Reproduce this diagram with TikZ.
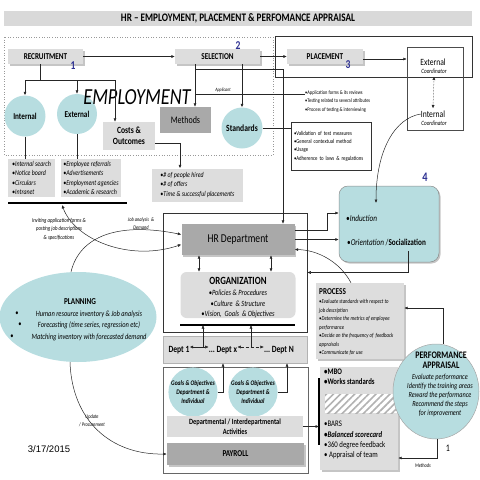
\documentclass[tikz,border=0pt]{standalone}
\usepackage{fontspec}
\setmainfont[FakeStretch=0.8]{Carlito}
\newfontfamily\datefont{Liberation Sans}
\usetikzlibrary{positioning,shapes.geometric,shadows,patterns.meta,arrows.meta}
\definecolor{barGray}{HTML}{D9D9D9}
\definecolor{boxGray}{HTML}{DDDDDD}
\definecolor{darkGray}{HTML}{A9A9A9}
\definecolor{tealFill}{HTML}{B7DDE0}
\definecolor{numBlue}{HTML}{2E3192}
\newcommand{\fsz}[2]{\fontsize{#1}{#2}\selectfont}
\tikzset{
  shade box/.style={drop shadow={shadow xshift=1.5pt,shadow yshift=-1.5pt,fill=black!45}},
  headbox/.style={fill=boxGray,shade box,minimum height=15pt,inner sep=1pt,font=\bfseries\fsz{9}{10}},
  listbox/.style={fill=boxGray,inner xsep=2pt,inner ysep=1pt,align=left,font=\itshape\fsz{7.4}{9.5}},
  darkbox/.style={fill=darkGray,inner sep=1pt,align=center},
  bubble/.style={circle,fill=tealFill,inner sep=0pt,align=center},
  numtag/.style={text=numBlue,inner sep=0pt,font=\bfseries\fsz{12}{12}},
  tinynote/.style={inner sep=0pt,align=center,font=\itshape\fsz{5.5}{7}},
  plain/.style={inner sep=0pt,align=center},
  link/.style={draw=black!85,line width=0.5pt,-{Latex[length=3.5pt,width=3pt]}},
  dlink/.style={draw=black!85,line width=0.5pt,{Latex[length=3.5pt,width=3pt]}-{Latex[length=3.5pt,width=3pt]}},
  wire/.style={draw=black!85,line width=0.5pt},
  heavy/.style={draw=black,line width=2pt},
}
\begin{document}
\begin{tikzpicture}[x=1pt,y=-1pt]
\useasboundingbox (0,0) rectangle (480,480);
\node[fill=barGray,minimum width=468pt,minimum height=15pt,inner sep=0pt,font=\bfseries\fsz{11.5}{11.5}] (title) at (238,18.5) {HR – EMPLOYMENT, PLACEMENT \& PERFOMANCE APPRAISAL};
\draw[gray!80,dotted,line width=0.6pt] (4,37) rectangle (273,155);
\draw[gray!40!black,line width=0.8pt] (275,36) rectangle (472,77);

\node[headbox,minimum width=75pt] (recruit) at (45.5,56.5) {RECRUITMENT};
\node[headbox,minimum width=85pt] (select) at (217.5,56.5) {SELECTION};
\node[headbox,minimum width=76pt] (place) at (325,56.5) {PLACEMENT};
\node[numtag] (tag1) at (73,66) {1};
\node[numtag] (tag2) at (238,46) {2};
\node[numtag] (tag3) at (348,65) {3};

\node[draw=black!70,line width=0.5pt,minimum width=56pt,minimum height=83pt] (coord) at (435,88.5) {};
\node[plain,font=\fsz{9.5}{10}] (extA) at (433,62) {External};
\node[plain,font=\itshape\fsz{6.5}{7}] (extB) at (434,71) {Coordinator};
\node[plain,font=\fsz{9.5}{10}] (intA) at (433,114) {Internal};
\node[plain,font=\itshape\fsz{6.5}{7}] (intB) at (434,123) {Coordinator};

\node[bubble,minimum size=41pt,font=\bfseries\fsz{9}{10}] (internal) at (25,116) {Internal};
\node[bubble,minimum size=40pt,font=\bfseries\fsz{9}{10}] (external) at (77,114) {External};
\node[plain,font=\itshape\fsz{23}{23}] (employ) at (137,97) {EMPLOYMENT};
\node[fill=boxGray,minimum width=52pt,minimum height=28pt,inner sep=0pt,align=center,font=\bfseries\fsz{9.5}{11}] (costs) at (129,136) {Costs \&\\Outcomes};
\node[listbox,minimum width=47pt,minimum height=38pt] (intList) at (31.5,178) {•Internal search\\•Notice board\\•Circulars\\•Intranet};
\node[listbox,minimum width=58pt,minimum height=38pt] (extList) at (91,178) {•Employee referrals\\•Advertisements\\•Employment agencies\\•Academic \& research};
\node[listbox,minimum width=91pt,minimum height=33pt] (hired) at (197.5,185) {•\# of people hired\\•\# of offers\\•Time \& successful placements};
\coordinate (barL) at (8,203);
\coordinate (barR) at (127,203);
\coordinate (barHit) at (62,205);
\draw[heavy] (barL) -- (barR);

\node[darkbox,minimum width=51pt,minimum height=26pt,font=\fsz{10}{10}] (methods) at (185.5,120) {Methods};
\node[bubble,minimum size=41pt,font=\bfseries\fsz{9.5}{10}] (standards) at (242,128) {Standards};
\node[tinynote,font=\itshape\fsz{5}{6}] (applicant) at (223,90) {Applicant};
\node[anchor=west,inner sep=0pt,align=left,font=\fsz{5.5}{8.5}] (appList) at (305,101.5) {•Application forms \& its reviews\\•Testing related to several attributes\\•Process of testing \& interviewing};
\node[draw=black!80,line width=0.5pt,fill=white,text width=74pt,minimum height=48pt,inner xsep=3pt,align=left,font=\fsz{6}{8.3}] (stdList) at (331,146) {•Validation of test measures\\•General contextual method\\•Usage\\•Adherence to laws \& regulations};

\node[draw=black!80,line width=0.6pt,minimum width=144pt,minimum height=119pt] (hrFrame) at (235,272.5) {};
\node[darkbox,shade box,minimum width=113pt,minimum height=31pt,font=\fsz{12}{12}] (hrdept) at (238,239.5) {HR Department};
\node[fill=boxGray,rounded corners=6pt,minimum width=115pt,minimum height=46pt] (org) at (238,295) {};
\node[plain,font=\bfseries\fsz{11}{11}] (orgTitle) at (238,281) {ORGANIZATION};
\node[plain,font=\itshape\fsz{8}{10.5}] (orgItems) at (238,304) {•Policies \& Procedures\\•Culture \ \& Structure\\•Vision, \ Goals \ \& Objectives};
\coordinate (orgBarL) at (180,325);
\coordinate (orgBarR) at (295,325);
\draw[heavy] (orgBarL) -- (orgBarR);

\node[fill=boxGray,draw=black!30,minimum width=144pt,minimum height=27pt] (deptRow) at (235,349.5) {};
\node[plain,font=\bfseries\fsz{9.5}{10}] (dept1) at (179,350) {Dept 1};
\node[plain,font=\bfseries\fsz{9.5}{10}] (deptX) at (223,350) {...\,Dept x};
\node[plain,font=\bfseries\fsz{9.5}{10}] (deptN) at (279,350) {...\,Dept N};
\coordinate (dJa) at (203,347);
\coordinate (dJb) at (251,347);

\node[draw=black!60,line width=0.6pt,minimum width=145pt,minimum height=106pt] (lowFrame) at (235.5,420) {};
\node[bubble,minimum size=48pt,font=\bfseries\itshape\fsz{7}{9}] (goalA) at (193,392) {Goals \& Objectives\\Department \&\\Individual};
\node[bubble,minimum size=48pt,font=\bfseries\itshape\fsz{7}{9}] (goalB) at (253,392) {Goals \& Objectives\\Department \&\\Individual};
\node[fill=boxGray,minimum width=136pt,minimum height=21pt,inner sep=0pt,align=center,font=\bfseries\fsz{8}{10}] (activ) at (235,426.5) {Departmental / Interdepartmental\\Activities};
\node[darkbox,shade box,minimum width=137pt,minimum height=22pt,font=\bfseries\fsz{9}{10}] (payroll) at (235.5,454) {PAYROLL};
\node[font=\datefont\fsz{9.5}{10},inner sep=0pt] (date) at (49,449) {3/17/2015};

\node[ellipse,fill=tealFill,minimum width=157pt,minimum height=90pt,inner sep=0pt] (planning) at (78,317) {};
\node[plain,font=\bfseries\fsz{9}{10}] (planTitle) at (80,302) {PLANNING};
\node[plain,font=\itshape\fsz{8}{11.5}] (planItems) at (89,325.5) {Human resource inventory \& Job analysis\\Forecasting (time series, regression etc)\\Matching inventory with forecasted demand};
\node[plain,font=\fsz{8}{8}] (dotA) at (17,314) {•};
\node[plain,font=\fsz{8}{8}] (dotB) at (20,325) {•};
\node[plain,font=\fsz{8}{8}] (dotC) at (12,337) {•};
\node[tinynote,font=\itshape\fsz{6}{8.5}] (inviteNote) at (59,229) {Inviting application forms \&\\posting job descriptions\\\& specifications};
\node[tinynote,font=\itshape\fsz{5.5}{8.5}] (demandNote) at (141,223.5) {Job analysis \ \&\\Demand};
\node[tinynote,font=\itshape\fsz{5.5}{8}] (updateNote) at (92,421) {Update\\/ Procurement};

\node[fill=tealFill,draw=black!45,line width=0.5pt,rounded corners=9pt,shade box,minimum width=100pt,minimum height=76pt] (induct) at (389,224) {};
\node[numtag,font=\bfseries\fsz{13}{13}] (tag4) at (425,177) {4};
\node[anchor=west,inner sep=0pt,font=\itshape\fsz{9}{10}] (indText) at (346,218) {•Induction};
\node[anchor=west,inner sep=0pt,font=\fsz{9}{10}] (socText) at (347,243) {•\textit{Orientation} /\textbf{Socialization}};
\coordinate (indIn) at (376,203);
\coordinate (socDrop) at (408,251);

\node[fill=boxGray,shade box,minimum width=88pt,minimum height=76pt] (process) at (360,321) {};
\node[anchor=west,inner sep=0pt,font=\bfseries\fsz{9}{10}] (procTitle) at (319,292) {PROCESS};
\node[anchor=north west,inner sep=0pt,align=left,font=\itshape\fsz{6}{8.5}] (procItems) at (319,299.5) {•Evaluate standards with respect to\\job description\\•Determine the metrics of employee\\performance\\•Decide on the frequency of \ feedback\\appraisals\\•Communicate for use};

\node[fill=boxGray,shade box,minimum width=78pt,minimum height=103pt] (mbo) at (359,418.5) {};
\fill[white] (325,394) rectangle (397,413);
\fill[pattern={Lines[angle=45,distance=5pt,line width=1.6pt]},pattern color=gray!60] (325,394) rectangle (397,413);
\node[anchor=north west,inner sep=0pt,align=left,font=\bfseries\fsz{8.5}{10}] (mboTop) at (324,369) {•MBO\\•Works standards};
\node[anchor=north west,inner sep=0pt,align=left,font=\fsz{8.5}{10.3}] (mboBot) at (324,421) {•BARS\\\textbf{\textit{•Balanced scorecard}}\\•360 degree feedback\\• Appraisal of team};
\coordinate (mboBarT) at (319,378);
\coordinate (mboBarB) at (319,445);
\draw[heavy] (mboBarT) -- (mboBarB);

\node[ellipse,fill=tealFill,draw=black!35,line width=0.5pt,minimum width=86pt,minimum height=95pt,inner sep=0pt] (perf) at (436,391.5) {};
\node[plain,font=\bfseries\fsz{10}{10.5}] (perfTitle) at (441,360) {PERFORMANCE\\APPRAISAL};
\node[plain,font=\itshape\fsz{7.8}{9}] (perfItems) at (440,395) {Evaluate performance\\Identify the training areas\\Reward the performance\\Recommend the steps\\for improvement};
\node[plain,font=\fsz{10}{10}] (perfOne) at (448,448) {1};
\node[tinynote,font=\itshape\fsz{5.5}{6}] (methodsNote) at (423,466) {Methods};

\coordinate (recJ) at (40,80);
\coordinate (selJ) at (195,69);
\coordinate (selTurn) at (283,69);
\coordinate (appJ) at (195,94);
\draw[link] (recruit) -- (select);
\draw[link] (select) -- (place);
\draw[link] ([yshift=-2.5pt]place.east) -- ([yshift=-2.5pt]place.east -| coord.west);
\draw[dlink,densely dotted] ([yshift=-3pt]extB.south) -- ([yshift=2pt]intA.north);
\draw[link] (intA.west) .. controls (395,118) and (376,150) .. (indIn);
\draw[wire] (recruit.south -| recJ) -- (recJ);
\draw[link] (recJ) -| (internal.north);
\draw[link] (recJ) -| (external.north);
\draw[link] (recJ) -| ([xshift=-14pt]costs.north);
\draw[wire] (internal.south) -- (internal.south |- intList.north);
\draw[wire] (external.south) -- (external.south |- extList.north);
\draw[link] ([yshift=-7pt]costs.east) -| ([xshift=-17.5pt]hired.north);
\draw[link] (select.south -| selJ) -- (methods.north -| selJ);
\draw[wire] (selJ) -- (selTurn);
\draw[link] (selTurn) -- (selTurn |- hrdept.north);
\draw[link] (select.south -| standards.north) -- (standards.north);
\draw[wire] (appJ) -- (appJ -| appList.west);
\draw[wire] (standards.east) -- (standards.east -| stdList.west);
\draw[dlink] ([xshift=-39pt]hrdept.south) -- ([xshift=-39pt]org.north);
\draw[dlink] ([xshift=33pt]hrdept.south) -- ([xshift=33pt]org.north);
\draw[dlink] (dept1.east |- dJa) -- (deptX.west |- dJa);
\draw[dlink,densely dashed] (deptX.east |- dJb) -- (deptN.west |- dJb);
\draw[link] (dJa) -- (dJa |- orgBarL);
\draw[link] (dJb) -- (dJb |- orgBarL);
\draw[link] (goalA.east) -| (deptX.south |- deptRow.south);
\draw[link] (goalB.east) -| ([xshift=8pt]deptN.south |- deptRow.south);
\draw[link] (activ.east) -- (activ.east -| mboBarT);
\draw[link] ([xshift=-7pt]planning.north) .. controls (80,235) and (120,222) .. ([yshift=5pt]hrdept.west);
\draw[dlink] (barHit) .. controls (75,240) and (130,262) .. ([yshift=-5pt]hrdept.west);
\draw[link] ([xshift=-8pt]planning.south) .. controls (72,420) and (110,455) .. (payroll.west);
\draw[link] ([yshift=9.5pt]hrdept.east) -- ++(33,0) |- ([yshift=11pt]induct.west);
\draw[link] (hrdept.east) -- (hrdept.east -| induct.west);
\draw[link] (socDrop) |- (hrFrame.east);
\draw[link] ([xshift=-9pt]process.north) .. controls (340,262) and (318,250) .. ([yshift=-10pt]hrdept.east);
\draw[link] ([xshift=7pt]perf.north) |- ([yshift=13pt]process.east);
\draw[link] ([xshift=1pt]perf.south) |- ([yshift=-39.5pt]mbo.east);
\end{tikzpicture}
\end{document}
